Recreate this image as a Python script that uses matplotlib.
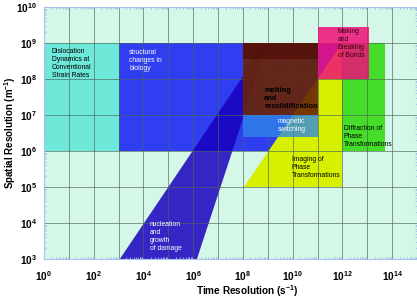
import math
import matplotlib
matplotlib.use("Agg")
import matplotlib.pyplot as plt
import matplotlib.ticker as mticker

plt.rcParams['font.family'] = ['Liberation Sans', 'DejaVu Sans']
plt.rcParams['mathtext.fontset'] = 'custom'
plt.rcParams['mathtext.rm'] = 'Liberation Sans'
plt.rcParams['mathtext.bf'] = 'Liberation Sans:bold'

# ---- data (x: time resolution s^-1, y: spatial resolution m^-1) ----
dislocation_x = [1e0, 1e3, 1e3, 1e0]
dislocation_y = [1e6, 1e6, 1e9, 1e9]
biology_x = [1e3, 1e12, 1e12, 1e3]
biology_y = [1e6, 1e6, 1e9, 1e9]
diffraction_x = [1e12, 10**13.7, 10**13.7, 1e12]
diffraction_y = [1e6, 1e6, 1e9, 1e9]
imaging_x = [10**8.05, 1e12, 1e12]
imaging_y = [1e5, 1e5, 1e9]
nucleation_x = [10**3.05, 10**6.15, 10**9.0, 10**8.9]
nucleation_y = [1e3, 1e3, 1e9, 1e9]
melting_x = [1e8, 1e11, 1e11, 1e8]
melting_y = [1e7, 1e7, 1e9, 1e9]
melting_top_y = [10**8.55, 10**8.55, 1e9, 1e9]
magnetic_x = [1e8, 1e11, 1e11, 1e8]
magnetic_y = [10**6.4, 10**6.4, 1e7, 1e7]
bonds_x = [1e11, 10**13.05, 10**13.05, 1e11]
bonds_y = [1e8, 1e8, 10**9.45, 10**9.45]

x_ticks = [10**k for k in range(0, 15, 2)]
y_ticks = [10**k for k in range(3, 11)]

fig = plt.figure(figsize=(4.17, 3.04), dpi=100)
ax = fig.add_axes([44/417, 1-259/304, 373/417, 252/304])
ax.set_xscale('log')
ax.set_yscale('log')
ax.set_xlim(1e0, 1e15)
ax.set_ylim(1e3, 1e10)
ax.set_facecolor('#d5f7e7')

ax.fill(dislocation_x, dislocation_y, color='#6ee8d8', lw=0, zorder=1)
ax.fill(biology_x, biology_y, color='#2e3ef0', lw=0, zorder=1)
ax.fill(diffraction_x, diffraction_y, color='#46dc2a', lw=0, zorder=1.1)
ax.fill(imaging_x, imaging_y, color='#d6f000', lw=0, zorder=1.2)
ax.fill(nucleation_x, nucleation_y, color='#1900be', alpha=0.85, lw=0, zorder=1.3)

for k in range(1, 15):
    ax.axvline(10**k, color='#4e6258', lw=0.6, alpha=0.75, zorder=1.5)
for k in range(4, 10):
    ax.axhline(10**k, color='#4e6258', lw=0.6, alpha=0.75, zorder=1.5)

ax.fill(melting_x, melting_y, color='#6a2404', alpha=0.9, lw=0, zorder=2)
ax.fill(melting_x, melting_top_y, color='#4a0000', alpha=0.5, lw=0, zorder=2.1)
ax.fill(magnetic_x, magnetic_y, color='#2e86e6', alpha=0.78, lw=0, zorder=2)
ax.fill(bonds_x, bonds_y, color='#ee1078', alpha=0.85, lw=0, zorder=2.2)

fs = 4.9
def t(x, y, s, color='black', **kw):
    ax.text(x, y, s, color=color, fontsize=kw.pop('fontsize', fs), va='top', ha='left',
            linespacing=1.2, zorder=3, **kw)

t(10**0.32, 10**8.86, 'Dislocation\nDynamics at\nConventional\nStrain Rates')
t(10**3.42, 10**8.84, 'structural\nchanges in\nbiology', color='white')
t(10**4.26, 10**4.06, 'nucleation\nand\ngrowth\nof damage', color='white')
t(10**8.85, 10**7.78, 'melting\nand\nresolidification', fontsize=5.4, fontweight='bold')
t(10**9.41, 10**6.92, 'magnetic\nswitching', color='white')
t(10**11.82, 10**9.42, 'Making\nand\nBreaking\nof Bonds', color='#3a0010')
t(10**12.06, 10**6.72, 'Diffraction of\nPhase\nTransformations')
t(10**9.97, 10**5.86, 'Imaging of\nPhase\nTransformations')

ax.xaxis.set_major_locator(mticker.FixedLocator(x_ticks))
ax.yaxis.set_major_locator(mticker.FixedLocator(y_ticks))
fmt = mticker.FuncFormatter(lambda v, p: r'$\mathbf{10^{%d}}$' % round(math.log10(v)))
ax.xaxis.set_major_formatter(fmt)
ax.yaxis.set_major_formatter(fmt)
ax.xaxis.set_minor_locator(mticker.LogLocator(base=10, subs=range(2, 10), numticks=100))
ax.yaxis.set_minor_locator(mticker.LogLocator(base=10, subs=range(2, 10), numticks=100))
ax.xaxis.set_minor_formatter(mticker.NullFormatter())
ax.yaxis.set_minor_formatter(mticker.NullFormatter())
ax.tick_params(which='major', length=0, labelsize=7.3, pad=7)
ax.tick_params(which='major', axis='y', pad=5)
ax.tick_params(which='minor', length=1.5, direction='in', color='#9fb8e8', top=True, right=True)
for s in ax.spines.values():
    s.set_color('#a8c2ee')
    s.set_linewidth(0.8)

ax.set_xlabel(r'Time Resolution (s$^{\mathbf{-1}}$)', fontsize=7.2, fontweight='bold')
ax.xaxis.set_label_coords(0.544, -0.095)
ax.xaxis.label.set_va('top')
ax.set_ylabel(r'Spatial Resolution (m$^{\mathbf{-1}}$)', fontsize=7.0, fontweight='bold')
ax.yaxis.set_label_coords(-0.071, 0.5)

fig.savefig('out.png', dpi=100)
